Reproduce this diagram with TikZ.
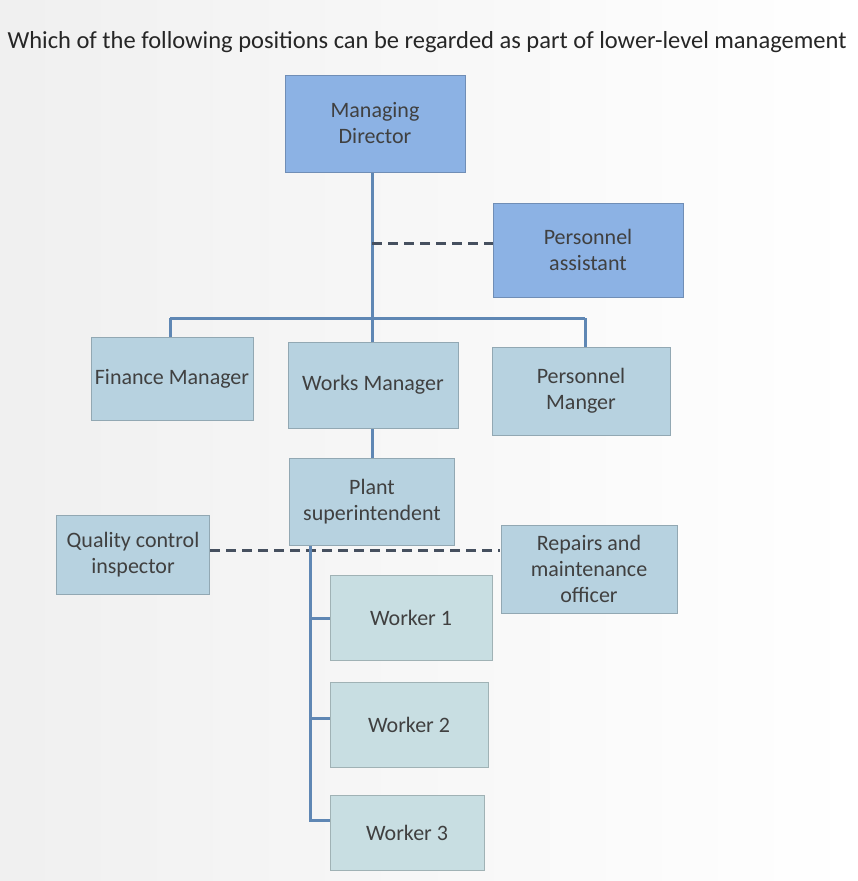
\documentclass[tikz,border=0pt]{standalone}
\usepackage{fontspec}
\setmainfont{Carlito}
\definecolor{bA}{RGB}{140,178,228}
\definecolor{bB}{RGB}{183,210,224}
\definecolor{bC}{RGB}{200,222,226}
\definecolor{lnc}{RGB}{95,135,180}
\definecolor{dsh}{RGB}{70,80,95}
\begin{document}
\begin{tikzpicture}[x=1pt,y=-1pt,
 box/.style={draw=#1!80!black,fill=#1,line width=1pt,align=center,font=\fontsize{22}{26}\selectfont,text=black!75},
 ln/.style={draw=lnc,line width=3pt},
 dl/.style={draw=dsh,line width=3pt,dash pattern=on 10pt off 6pt}]
\useasboundingbox (0,0) rectangle (857,881);
\fill[left color=gray!12,right color=white] (0,0) rectangle (857,881);
\node[anchor=west,font=\fontsize{24.5}{28}\selectfont,text=black!85] (t) at (4,42) {Which of the following positions can be regarded as part of lower-level management};
\path[ln] (372,172) -- (372,458);
\path[ln] (170,318) -- (585,318);
\path[ln] (170,318) -- (170,337);
\path[ln] (585,318) -- (585,347);
\path[dl] (372,243) -- (493,243);
\path[dl] (210,550) -- (500,550);
\path[ln] (310,545) -- (310,820) -- (330,820);
\path[ln] (310,618) -- (330,618);
\path[ln] (310,718) -- (330,718);
\node[box=bA,minimum width=180pt,minimum height=97pt] (md) at (375,123.5) {Managing\\Director};
\node[box=bA,minimum width=190pt,minimum height=94pt] (pa) at (588,250) {Personnel\\assistant};
\node[box=bB,minimum width=162pt,minimum height=83pt] (fm) at (172,378.5) {Finance Manager};
\node[box=bB,minimum width=170pt,minimum height=86pt] (wm) at (373,385) {Works Manager};
\node[box=bB,minimum width=178pt,minimum height=88pt] (pm) at (581,391) {Personnel\\Manger};
\node[box=bB,minimum width=165pt,minimum height=87pt] (ps) at (372,501.5) {Plant\\superintendent};
\node[box=bB,minimum width=153pt,minimum height=79pt] (qc) at (133,554.5) {Quality control\\inspector};
\node[box=bB,minimum width=176pt,minimum height=88pt] (rm) at (589,569) {Repairs and\\maintenance\\officer};
\node[box=bC,minimum width=162pt,minimum height=85pt] (w1) at (411,617.5) {Worker 1};
\node[box=bC,minimum width=158pt,minimum height=85pt] (w2) at (409,724.5) {Worker 2};
\node[box=bC,minimum width=154pt,minimum height=75pt] (w3) at (407,832.5) {Worker 3};
\end{tikzpicture}
\end{document}
